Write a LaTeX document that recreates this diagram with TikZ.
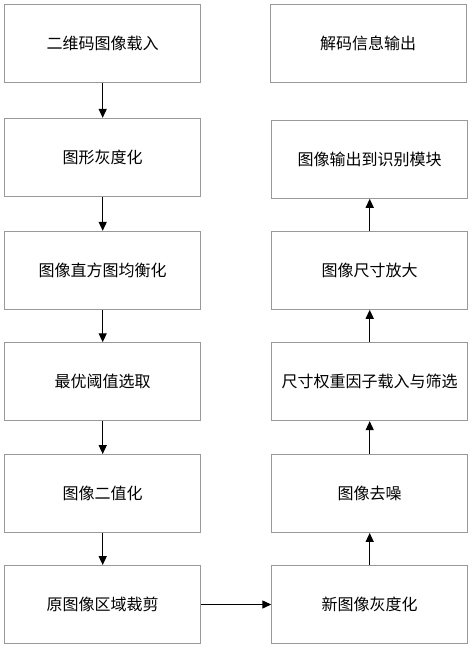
\documentclass[tikz,border=0pt]{standalone}
\usepackage{fontspec}
\newfontfamily\cjk{Noto Sans CJK SC}
\usetikzlibrary{arrows.meta}
\begin{document}
\begin{tikzpicture}[x=1pt,y=-1pt,
  box/.style={draw=black!40,line width=0.9pt,minimum width=196pt,minimum height=78pt,inner sep=0pt,font=\cjk\fontsize{16pt}{19pt}\selectfont},
  conn/.style={line width=1.4pt,-{Triangle[length=9pt,width=8pt]}}]
\useasboundingbox (0,0) rectangle (474,651);
\node[box] (a1) at (102.7,43.3) {二维码图像载入};
\node[box] (a2) at (102.7,157.3) {图形灰度化};
\node[box] (a3) at (102.7,270.3) {图像直方图均衡化};
\node[box] (a4) at (102.7,381.7) {最优阈值选取};
\node[box] (a5) at (102.7,493.5) {图像二值化};
\node[box] (a6) at (102.7,604.5) {原图像区域裁剪};
\node[box] (b1) at (368,43.3) {解码信息输出};
\node[box] (b2) at (369.7,159.3) {图像输出到识别模块};
\node[box] (b3) at (369.7,270.3) {图像尺寸放大};
\node[box] (b4) at (369.7,381.7) {尺寸权重因子载入与筛选};
\node[box] (b5) at (369.7,493.5) {图像去噪};
\node[box] (b6) at (369.7,604.5) {新图像灰度化};
\draw[conn] (a1) -- (a2);
\draw[conn] (a2) -- (a3);
\draw[conn] (a3) -- (a4);
\draw[conn] (a4) -- (a5);
\draw[conn] (a5) -- (a6);
\draw[conn] (a6) -- (b6);
\draw[conn] (b6) -- (b5);
\draw[conn] (b5) -- (b4);
\draw[conn] (b4) -- (b3);
\draw[conn] (b3) -- (b2);
\end{tikzpicture}
\end{document}
